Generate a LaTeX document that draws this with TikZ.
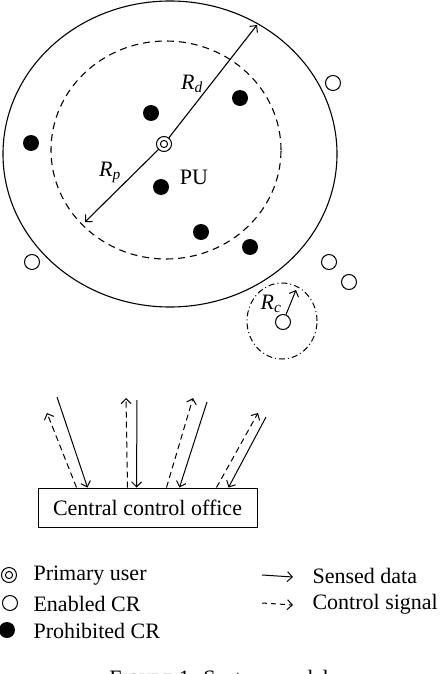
\documentclass[tikz,border=0pt]{standalone}
\usepackage{fontspec}
\setmainfont{Liberation Serif}
\usetikzlibrary{positioning, arrows.meta}
\tikzset{
>={Straight Barb[length=5pt,width=10pt,line width=1pt]}, % open arrow heads
every picture/.style={line width=1.1pt},
enabled/.style={circle, draw, line width=1pt, minimum size=15pt, inner sep=0pt}, % enabled CR
prohibited/.style={circle, fill, minimum size=16pt, inner sep=0pt}, % prohibited CR
primary/.style={circle, draw, fill=white, line width=1pt, minimum size=15pt, inner sep=0pt}, % primary user
sensed/.style={->, line width=1pt}, % sensed data
control/.style={->, line width=1pt, dash pattern=on 6pt off 4pt}, % control signal
every node/.style={font=\fontsize{22}{26}\selectfont},
}
\newcommand{\radius}[1]{\textit{R\textsubscript{#1}}}
\begin{document}
\begin{tikzpicture}[x=1pt, y=-1pt]
                \useasboundingbox (0,0) rectangle (440,674);
                % coverage areas
                \draw (170,154) ellipse [x radius=167pt, y radius=153pt];
                \draw[dash pattern=on 7pt off 5pt] (166,150) ellipse [x radius=115pt, y radius=109pt];
                \draw[line width=1pt, dash pattern=on 6pt off 3pt on 1pt off 3pt] (282,321) ellipse [x radius=35pt, y radius=38pt];

                \node[primary] (pu) at (164,144) {};
                \draw[line width=1pt] (pu.center) circle[radius=3.6pt];
                \node (pu_text) at (194,177) {PU};

                \coordinate (rd_end) at (257,25);
                \coordinate (rp_end) at (85,222);
                \draw[->] (pu) -- (rd_end);
                \draw[->] (pu) -- (rp_end);
                \node (rd_text) at (192,84) {\radius{d}};
                \node (rp_text) at (110,172) {\radius{p}};

                % prohibited CRs
                \node[prohibited] (p1) at (151,113) {};
                \node[prohibited] (p2) at (240,98) {};
                \node[prohibited] (p3) at (31,143) {};
                \node[prohibited] (p4) at (161,187) {};
                \node[prohibited] (p5) at (201,232) {};
                \node[prohibited] (p6) at (250,247) {};

                % enabled CRs
                \node[enabled] (e1) at (333,83) {};
                \node[enabled] (e2) at (32,262) {};
                \node[enabled] (e3) at (329,262) {};
                \node[enabled] (e4) at (349,282) {};
                \node[enabled] (e5) at (283,322) {};
                \coordinate (rc_end) at (296,290);
                \draw[sensed] (e5) -- (rc_end);
                \node (rc_text) at (271,304) {\radius{c}};

                % central control office
                \node[draw, line width=1pt, minimum width=219pt, minimum height=39pt] (office) at (147.5,507.5) {Central control office};

                \coordinate (s1) at (57,397);
                \coordinate (s2) at (137,400);
                \coordinate (s3) at (207,402);
                \coordinate (s4) at (266,417);
                \coordinate (c1) at (47,413);
                \coordinate (c2) at (126,398);
                \coordinate (c3) at (193,398);
                \coordinate (c4) at (258,413);
                \draw[sensed] (s1) -- ([xshift=50pt]office.north west);
                \draw[sensed] (s2) -- ([xshift=99pt]office.north west);
                \draw[sensed] (s3) -- ([xshift=142pt]office.north west);
                \draw[sensed] (s4) -- ([xshift=191pt]office.north west);
                \draw[control] ([xshift=39pt]office.north west) -- (c1);
                \draw[control] ([xshift=90pt]office.north west) -- (c2);
                \draw[control] ([xshift=129pt]office.north west) -- (c3);
                \draw[control] ([xshift=179pt]office.north west) -- (c4);

                % legend
                \node[primary] (leg_pu) at (9,575) {};
                \draw[line width=1pt] (leg_pu.center) circle[radius=3.6pt];
                \node[enabled] (leg_en) at (10,603) {};
                \node[prohibited] (leg_pr) at (7,630) {};
                \node[anchor=west, inner sep=0pt] (leg_pu_text) at (33,576) {Primary user};
                \node[anchor=west, inner sep=0pt] (leg_en_text) at (33,604) {Enabled CR};
                \node[anchor=west, inner sep=0pt] (leg_pr_text) at (33,631) {Prohibited CR};

                \coordinate (leg_s) at (262,575);
                \coordinate (leg_c) at (262,603);
                \node[anchor=west, inner sep=0pt] (leg_s_text) at (312,576) {Sensed data};
                \node[anchor=west, inner sep=0pt] (leg_c_text) at (312,604) {Control signal};
                \draw[sensed] (leg_s) -- ([xshift=-19pt,yshift=-1pt]leg_s_text.west);
                \draw[control, dash pattern=on 5pt off 4pt] (leg_c) -- ([xshift=-19pt,yshift=-1pt]leg_c_text.west);

                % caption, cut by the page edge
                \node[anchor=north, inner sep=0pt] (caption) at (219,670) {F{\fontsize{17}{20}\selectfont IGURE} 1: System model};
\end{tikzpicture}
\end{document}
